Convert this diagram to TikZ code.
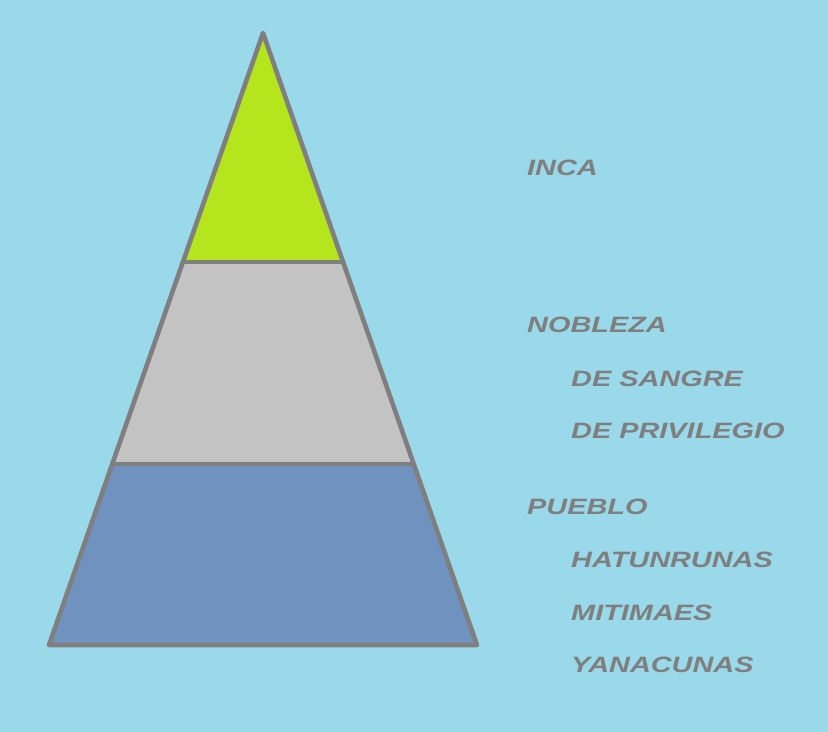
\documentclass[tikz,border=0pt]{standalone}
\usepackage{fontspec}
\newfontfamily\pyrfont[FakeStretch=1.3]{Liberation Sans}
\definecolor{sky}{RGB}{153,217,234}
\definecolor{lime}{RGB}{181,229,29}
\definecolor{stone}{RGB}{195,195,195}
\definecolor{slate}{RGB}{112,146,190}
\definecolor{edge}{RGB}{127,127,127}
\tikzset{label/.style={anchor=base west,inner sep=0pt,text=edge,
	font=\pyrfont\bfseries\itshape\fontsize{22.3}{26}\selectfont}}
\begin{document}
\begin{tikzpicture}[x=1bp,y=-1bp]
	\fill[sky] (0,0) rectangle (828,732);
	\useasboundingbox (0,0) rectangle (828,732);
	\coordinate (apex) at (263,33);
	\coordinate (t1) at (183,262); \coordinate (t2) at (343,262);
	\coordinate (m1) at (113,464); \coordinate (m2) at (414,464);
	\coordinate (b1) at (49,645); \coordinate (b2) at (477,645);
	\fill[lime] (apex) -- (t2) -- (t1) -- cycle;
	\fill[stone] (t1) -- (t2) -- (m2) -- (m1) -- cycle;
	\fill[slate] (m1) -- (m2) -- (b2) -- (b1) -- cycle;
	\draw[edge,line width=4.6bp,line join=round] (apex) -- (b2) -- (b1) -- cycle;
	\draw[edge,line width=4.6bp] (t1) -- (t2) (m1) -- (m2);
	\node[label] (inca) at (527,175) {INCA};
	\node[label] (nobleza) at (527,332) {NOBLEZA};
	\node[label] (sangre) at (571,386) {DE SANGRE};
	\node[label] (privilegio) at (571,438) {DE PRIVILEGIO};
	\node[label] (pueblo) at (527,514) {PUEBLO};
	\node[label] (hatun) at (571,567) {HATUNRUNAS};
	\node[label] (mitimaes) at (571,620) {MITIMAES};
	\node[label] (yana) at (571,672) {YANACUNAS};
\end{tikzpicture}
\end{document}
